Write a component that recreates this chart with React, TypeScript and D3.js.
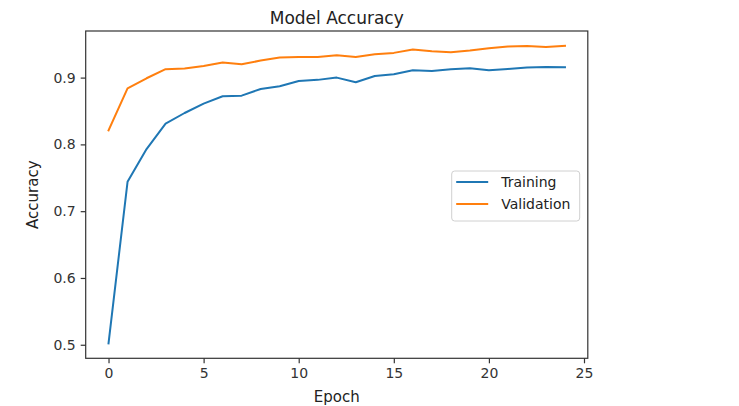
import React, { useEffect, useRef } from 'react';
import * as d3 from 'd3';

const epochs = d3.range(0, 25);
const training = [
  0.502, 0.744, 0.793, 0.831, 0.847, 0.861, 0.872, 0.873, 0.883, 0.887,
  0.895, 0.8966, 0.9, 0.893, 0.9025, 0.905, 0.911, 0.91, 0.9126, 0.914,
  0.911, 0.913, 0.915, 0.916, 0.9155,
];
const validation = [
  0.821, 0.884, 0.899, 0.9126, 0.9135, 0.9175, 0.9225, 0.92, 0.9255, 0.93,
  0.931, 0.931, 0.9335, 0.931, 0.935, 0.937, 0.942, 0.9395, 0.938, 0.9405,
  0.944, 0.9465, 0.9475, 0.946, 0.9475,
];
const xTicks = [0, 5, 10, 15, 20, 25];
const yTicks = [0.5, 0.6, 0.7, 0.8, 0.9];
const seriesNames = ['Training', 'Validation'];
const colors = ['#1f77b4', '#ff7f0e'];

const W = 739;
const H = 406;
const FONT = 'DejaVu Sans, sans-serif';

const App: React.FC = () => {
  const ref = useRef<SVGSVGElement | null>(null);

  useEffect(() => {
    if (!ref.current) return;
    document.body.style.margin = '0';
    const svg = d3.select(ref.current);
    svg.selectAll('*').remove();

    const left = 85.7, right = 587.8, top = 31, bottom = 358.3;

    // matplotlib-style 5% margins
    const xPad = (d3.max(epochs)! - d3.min(epochs)!) * 0.05;
    const all = training.concat(validation);
    const yMin = d3.min(all)!, yMax = d3.max(all)!;
    const yPad = (yMax - yMin) * 0.05;

    const x = d3.scaleLinear()
      .domain([d3.min(epochs)! - xPad, d3.max(epochs)! + xPad])
      .range([left, right]);
    const y = d3.scaleLinear()
      .domain([yMin - yPad, yMax + yPad])
      .range([bottom, top]);

    svg.append('rect')
      .attr('width', W).attr('height', H).attr('fill', '#fff');

    const line = d3.line<number>()
      .x((_, i) => x(epochs[i]))
      .y(d => y(d));

    [training, validation].forEach((s, i) => {
      svg.append('path')
        .datum(s)
        .attr('fill', 'none')
        .attr('stroke', colors[i])
        .attr('stroke-width', 2)
        .attr('stroke-linejoin', 'round')
        .attr('stroke-linecap', 'square')
        .attr('d', line);
    });

    const xAxis = svg.append('g')
      .attr('transform', `translate(0,${bottom})`)
      .call(d3.axisBottom(x).tickValues(xTicks).tickSize(5).tickSizeOuter(0).tickPadding(5)
        .tickFormat(d => String(d)));
    const yAxis = svg.append('g')
      .attr('transform', `translate(${left},0)`)
      .call(d3.axisLeft(y).tickValues(yTicks).tickSize(5).tickSizeOuter(0).tickPadding(5)
        .tickFormat(d3.format('.1f')));

    [xAxis, yAxis].forEach(g => {
      g.select('.domain').remove();
      g.selectAll('line').attr('stroke', '#333').attr('stroke-width', 1.2);
      g.selectAll('text')
        .attr('fill', '#333')
        .style('font-family', FONT)
        .style('font-size', '14px');
    });

    svg.append('rect')
      .attr('x', left).attr('y', top)
      .attr('width', right - left).attr('height', bottom - top)
      .attr('fill', 'none').attr('stroke', '#333').attr('stroke-width', 1.2);

    svg.append('text')
      .attr('x', (left + right) / 2).attr('y', 24)
      .attr('text-anchor', 'middle')
      .attr('fill', '#222')
      .style('font-family', FONT).style('font-size', '17px')
      .text('Model Accuracy');

    svg.append('text')
      .attr('x', (left + right) / 2).attr('y', 402)
      .attr('text-anchor', 'middle')
      .attr('fill', '#222')
      .style('font-family', FONT).style('font-size', '15px')
      .text('Epoch');

    svg.append('text')
      .attr('transform', `translate(38,${(top + bottom) / 2}) rotate(-90)`)
      .attr('text-anchor', 'middle')
      .attr('fill', '#222')
      .style('font-family', FONT).style('font-size', '15px')
      .text('Accuracy');

    // legend
    const lg = svg.append('g').attr('transform', 'translate(451.7,171)');
    lg.append('rect')
      .attr('width', 128).attr('height', 50).attr('rx', 3)
      .attr('fill', '#fff').attr('fill-opacity', 0.8)
      .attr('stroke', '#d0d0d0').attr('stroke-width', 1);
    seriesNames.forEach((name, i) => {
      const cy = 11 + i * 22;
      lg.append('line')
        .attr('x1', 4.5).attr('x2', 36.5).attr('y1', cy).attr('y2', cy)
        .attr('stroke', colors[i]).attr('stroke-width', 2);
      lg.append('text')
        .attr('x', 49.5).attr('y', cy + 5)
        .attr('fill', '#222')
        .style('font-family', FONT).style('font-size', '14px')
        .text(name);
    });
  }, []);

  return (
    <svg ref={ref} width={W} height={H}
      style={{ display: 'block', position: 'absolute', left: 0, top: 0 }} />
  );
};

export default App;
